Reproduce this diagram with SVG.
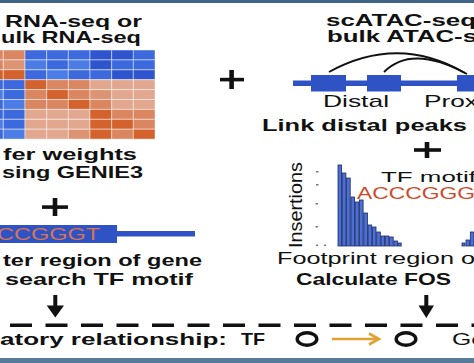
<svg xmlns="http://www.w3.org/2000/svg" width="474" height="363" viewBox="0 0 474 363">
<style>
  text { font-family: "Liberation Sans", Arial, sans-serif; fill: #111; }
  .b { font-weight: bold; font-size: 17px; }
  .r { font-size: 17px; }
  .B1 { fill: #3c69de; } .B2 { fill: #2f55ce; } .B3 { fill: #4c7de6; }
  .O1 { fill: #d3622c; } .O2 { fill: #da8661; } .O3 { fill: #e2a88f; } .O4 { fill: #dd9475; }
  .cell rect { stroke: #ffffff; stroke-opacity: 0.45; stroke-width: 1; }
  .blue { fill: #2f52c4; }
  .bar { fill: #4b6fd2; stroke: #1b2a66; stroke-width: 0.8; }
  .plus { fill: #111; }
  .tick { fill: #777; }
</style>

<!-- frame bands -->
<rect x="0" y="0" width="474" height="3" fill="#3f6485"/>
<rect x="0" y="358" width="474" height="5" fill="#557a9a"/>

<g id="expression-panel">
  <text class="b" x="5" y="26.5" font-size="16.5" style="font-size:16.5px" textLength="137" lengthAdjust="spacingAndGlyphs">RNA-seq or</text>
  <text class="b" x="1" y="42.5" style="font-size:16.5px" textLength="140" lengthAdjust="spacingAndGlyphs">ulk RNA-seq</text>
  <g id="heatmap" class="cell">
    <rect x="-18.4" y="50" width="21.7" height="9.9" class="O2"/>
    <rect x="-18.4" y="59.9" width="21.7" height="9.9" class="O2"/>
    <rect x="-18.4" y="69.8" width="21.7" height="9.9" class="O1"/>
    <rect x="3.3" y="50" width="21.7" height="9.9" class="O2"/>
    <rect x="3.3" y="59.9" width="21.7" height="9.9" class="O4"/>
    <rect x="3.3" y="69.8" width="21.7" height="9.9" class="O1"/>
    <rect x="25" y="50" width="21.7" height="9.9" class="B1"/>
    <rect x="25" y="59.9" width="21.7" height="9.9" class="B3"/>
    <rect x="25" y="69.8" width="21.7" height="9.9" class="B1"/>
    <rect x="46.7" y="50" width="21.7" height="9.9" class="B1"/>
    <rect x="46.7" y="59.9" width="21.7" height="9.9" class="B1"/>
    <rect x="46.7" y="69.8" width="21.7" height="9.9" class="B3"/>
    <rect x="68.3" y="50" width="21.7" height="9.9" class="B1"/>
    <rect x="68.3" y="59.9" width="21.7" height="9.9" class="B3"/>
    <rect x="68.3" y="69.8" width="21.7" height="9.9" class="B1"/>
    <rect x="90" y="50" width="21.7" height="9.9" class="B2"/>
    <rect x="90" y="59.9" width="21.7" height="9.9" class="B2"/>
    <rect x="90" y="69.8" width="21.7" height="9.9" class="B1"/>
    <rect x="111.7" y="50" width="21.7" height="9.9" class="B2"/>
    <rect x="111.7" y="59.9" width="21.7" height="9.9" class="B1"/>
    <rect x="111.7" y="69.8" width="21.7" height="9.9" class="B2"/>
    <rect x="133.3" y="50" width="21.7" height="9.9" class="B1"/>
    <rect x="133.3" y="59.9" width="21.7" height="9.9" class="B1"/>
    <rect x="133.3" y="69.8" width="21.7" height="9.9" class="B2"/>
    <rect x="-18.4" y="79.7" width="21.7" height="9.9" class="B1"/>
    <rect x="-18.4" y="89.6" width="21.7" height="9.9" class="B3"/>
    <rect x="-18.4" y="99.5" width="21.7" height="9.9" class="B1"/>
    <rect x="-18.4" y="109.4" width="21.7" height="9.9" class="B1"/>
    <rect x="-18.4" y="119.3" width="21.7" height="9.9" class="B3"/>
    <rect x="-18.4" y="129.2" width="21.7" height="9.9" class="B1"/>
    <rect x="3.3" y="79.7" width="21.7" height="9.9" class="B1"/>
    <rect x="3.3" y="89.6" width="21.7" height="9.9" class="B1"/>
    <rect x="3.3" y="99.5" width="21.7" height="9.9" class="B3"/>
    <rect x="3.3" y="109.4" width="21.7" height="9.9" class="B1"/>
    <rect x="3.3" y="119.3" width="21.7" height="9.9" class="B1"/>
    <rect x="3.3" y="129.2" width="21.7" height="9.9" class="B3"/>
    <rect x="25" y="79.7" width="21.7" height="9.9" class="O1"/>
    <rect x="46.7" y="79.7" width="21.7" height="9.9" class="O2"/>
    <rect x="68.3" y="79.7" width="21.7" height="9.9" class="O2"/>
    <rect x="90" y="79.7" width="21.7" height="9.9" class="O3"/>
    <rect x="111.7" y="79.7" width="21.7" height="9.9" class="O3"/>
    <rect x="133.3" y="79.7" width="21.7" height="9.9" class="O3"/>
    <rect x="25" y="89.6" width="21.7" height="9.9" class="O2"/>
    <rect x="46.7" y="89.6" width="21.7" height="9.9" class="O1"/>
    <rect x="68.3" y="89.6" width="21.7" height="9.9" class="O2"/>
    <rect x="90" y="89.6" width="21.7" height="9.9" class="O4"/>
    <rect x="111.7" y="89.6" width="21.7" height="9.9" class="O3"/>
    <rect x="133.3" y="89.6" width="21.7" height="9.9" class="O3"/>
    <rect x="25" y="99.5" width="21.7" height="9.9" class="O2"/>
    <rect x="46.7" y="99.5" width="21.7" height="9.9" class="O2"/>
    <rect x="68.3" y="99.5" width="21.7" height="9.9" class="O1"/>
    <rect x="90" y="99.5" width="21.7" height="9.9" class="O2"/>
    <rect x="111.7" y="99.5" width="21.7" height="9.9" class="O3"/>
    <rect x="133.3" y="99.5" width="21.7" height="9.9" class="O3"/>
    <rect x="25" y="109.4" width="21.7" height="9.9" class="O3"/>
    <rect x="46.7" y="109.4" width="21.7" height="9.9" class="O3"/>
    <rect x="68.3" y="109.4" width="21.7" height="9.9" class="O3"/>
    <rect x="90" y="109.4" width="21.7" height="9.9" class="O1"/>
    <rect x="111.7" y="109.4" width="21.7" height="9.9" class="O2"/>
    <rect x="133.3" y="109.4" width="21.7" height="9.9" class="O2"/>
    <rect x="25" y="119.3" width="21.7" height="9.9" class="O3"/>
    <rect x="46.7" y="119.3" width="21.7" height="9.9" class="O3"/>
    <rect x="68.3" y="119.3" width="21.7" height="9.9" class="O3"/>
    <rect x="90" y="119.3" width="21.7" height="9.9" class="O1"/>
    <rect x="111.7" y="119.3" width="21.7" height="9.9" class="O1"/>
    <rect x="133.3" y="119.3" width="21.7" height="9.9" class="O2"/>
    <rect x="25" y="129.2" width="21.7" height="9.9" class="O3"/>
    <rect x="46.7" y="129.2" width="21.7" height="9.9" class="O3"/>
    <rect x="68.3" y="129.2" width="21.7" height="9.9" class="O4"/>
    <rect x="90" y="129.2" width="21.7" height="9.9" class="O1"/>
    <rect x="111.7" y="129.2" width="21.7" height="9.9" class="O2"/>
    <rect x="133.3" y="129.2" width="21.7" height="9.9" class="O1"/>
  </g>
  <text class="b" x="3" y="160" textLength="134" lengthAdjust="spacingAndGlyphs">fer weights</text>
  <text class="b" x="2" y="178" textLength="141" lengthAdjust="spacingAndGlyphs">sing GENIE3</text>
</g>

<g id="plus-top" class="plus">
  <rect x="220" y="77.8" width="24" height="3.6"/>
  <rect x="229.3" y="70" width="4.6" height="19"/>
</g>
<g id="plus-left" class="plus">
  <rect x="42" y="205.3" width="26" height="3.6"/>
  <rect x="52.7" y="198" width="4.6" height="18"/>
</g>
<g id="plus-right" class="plus">
  <rect x="414" y="148.2" width="27" height="3.6"/>
  <rect x="424.7" y="142" width="4.6" height="16"/>
</g>

<g id="promoter-panel">
  <rect x="0" y="225" width="117" height="18" class="blue"/>
  <rect x="117" y="231" width="78" height="5.5" class="blue"/>
  <text x="-3" y="239.5" font-size="17" style="fill:#d8764e" textLength="103" lengthAdjust="spacingAndGlyphs">CCGGGT</text>
  <text class="b" x="3" y="266" textLength="199" lengthAdjust="spacingAndGlyphs">ter region of gene</text>
  <text class="b" x="5" y="285" textLength="188" lengthAdjust="spacingAndGlyphs">search TF motif</text>
</g>

<g id="atac-panel">
  <text class="b" x="326" y="26" style="font-size:16.5px" textLength="150" lengthAdjust="spacingAndGlyphs">scATAC-seq</text>
  <text class="b" x="327" y="42" style="font-size:16.5px" textLength="150" lengthAdjust="spacingAndGlyphs">bulk ATAC-s</text>
  <rect x="293" y="80.5" width="181" height="5.5" class="blue"/>
  <rect x="311" y="75" width="35" height="16.5" class="blue"/>
  <rect x="367" y="75" width="34" height="16.5" class="blue"/>
  <rect x="457" y="75" width="20" height="16.5" class="blue"/>
  <path d="M329,72 Q398,34 465,73" fill="none" stroke="#111" stroke-width="1.8"/>
  <path d="M384,72 Q412,44 467,74" fill="none" stroke="#111" stroke-width="1.8"/>
  <text class="r" x="323" y="107" textLength="66" lengthAdjust="spacingAndGlyphs">Distal</text>
  <text class="r" x="424" y="107" textLength="54" lengthAdjust="spacingAndGlyphs">Prox</text>
  <text class="b" x="262" y="131" textLength="205" lengthAdjust="spacingAndGlyphs">Link distal peaks</text>
</g>

<g id="footprint-panel">
  <text x="302" y="248" font-size="19" transform="rotate(-90 302 248)" textLength="86" lengthAdjust="spacingAndGlyphs">Insertions</text>
  <rect class="tick" x="316" y="171" width="2.5" height="1.5"/>
  <rect class="tick" x="316" y="184" width="2.5" height="1.5"/>
  <rect class="tick" x="315.5" y="203" width="2.5" height="1.5"/>
  <rect class="tick" x="315.5" y="226" width="2.5" height="1.5"/>
  <rect class="tick" x="316" y="244.5" width="2" height="1.5"/>
  <rect class="tick" x="324" y="244.5" width="2" height="1.5"/>
  <g id="bars">
    <rect class="bar" x="338" y="165" width="3.6" height="81"/>
    <rect class="bar" x="342.3" y="173" width="3.6" height="73"/>
    <rect class="bar" x="346.6" y="178" width="3.6" height="68"/>
    <rect class="bar" x="350.9" y="197" width="3.6" height="49"/>
    <rect class="bar" x="355.2" y="202" width="3.6" height="44"/>
    <rect class="bar" x="359.5" y="200" width="3.6" height="46"/>
    <rect class="bar" x="363.8" y="213" width="3.6" height="33"/>
    <rect class="bar" x="368.1" y="225" width="3.6" height="21"/>
    <rect class="bar" x="372.4" y="227" width="3.6" height="19"/>
    <rect class="bar" x="376.7" y="232" width="3.6" height="14"/>
    <rect class="bar" x="381" y="236" width="3.6" height="10"/>
    <rect class="bar" x="385.3" y="236" width="3.6" height="10"/>
    <rect class="bar" x="389.6" y="237" width="3.6" height="9"/>
    <rect class="bar" x="393.9" y="241" width="3.6" height="5"/>
    <rect class="bar" x="398.2" y="243" width="3" height="3"/>
    <rect class="bar" x="462" y="243" width="3" height="3"/>
    <rect class="bar" x="466" y="240" width="3.4" height="6"/>
    <rect class="bar" x="470.3" y="232" width="3.6" height="14"/>
  </g>
  <text x="381" y="182" font-size="15" textLength="95" lengthAdjust="spacingAndGlyphs">TF motif</text>
  <text x="357" y="199" font-size="16" style="fill:#d04a2a" textLength="118" lengthAdjust="spacingAndGlyphs">ACCCGGG</text>
  <text x="277" y="264" font-size="16" textLength="198" lengthAdjust="spacingAndGlyphs">Footprint region o</text>
  <text class="b" x="296" y="285" textLength="155" lengthAdjust="spacingAndGlyphs">Calculate FOS</text>
</g>

<g id="connectors">
  <line x1="55.3" y1="295" x2="55.3" y2="306" stroke="#111" stroke-width="4"/>
  <path d="M46.7,305.5 L64,305.5 L55.3,317.5 Z" fill="#111"/>
  <line x1="426.3" y1="295" x2="426.3" y2="306" stroke="#111" stroke-width="4"/>
  <path d="M418.5,305.5 L434,305.5 L426.3,318 Z" fill="#111"/>
  <line x1="10" y1="325.3" x2="474" y2="325.3" stroke="#111" stroke-width="3.6" stroke-dasharray="22 13.5"/>
</g>

<g id="regulatory-legend">
  <text class="b" x="0" y="345" textLength="227" lengthAdjust="spacingAndGlyphs">atory relationship:</text>
  <text class="b" x="241" y="345" textLength="24" lengthAdjust="spacingAndGlyphs">TF</text>
  <ellipse cx="307" cy="339" rx="9.8" ry="6.2" fill="none" stroke="#111" stroke-width="3.4"/>
  <ellipse cx="406" cy="339" rx="9.8" ry="6.2" fill="none" stroke="#111" stroke-width="3.4"/>
  <line x1="332" y1="339" x2="378" y2="339" stroke="#e0a232" stroke-width="2.6"/>
  <path d="M369,333.5 L379,339 L369,344.5" fill="none" stroke="#e0a232" stroke-width="2.6"/>
  <text class="r" x="452" y="345" textLength="33" lengthAdjust="spacingAndGlyphs">Ge</text>
</g>
</svg>
